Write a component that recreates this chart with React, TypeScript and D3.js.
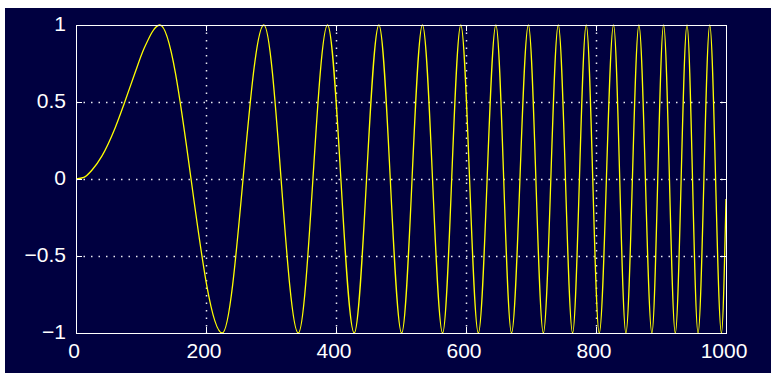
import React from "react";
import * as d3 from "d3";

// Values
const startX = [0, 12, 25, 40, 60, 75, 90, 105];
const startY = [0, 0.01, 0.06, 0.15, 0.33, 0.5, 0.68, 0.85];
const peakX = [129, 289, 387, 466, 533, 592, 646, 696, 742, 785, 827, 866, 904, 940, 975];
const troughX = [225, 342, 428, 501, 564, 619, 670, 719, 764, 805, 846, 886, 922, 957, 993];
const endX = [1000];
const endY = [-0.13];

const xTicks = [0, 200, 400, 600, 800, 1000];
const yTicks = [-1, -0.5, 0, 0.5, 1];
const xGrid = [200, 400, 600, 800];
const yGrid = [-0.5, 0, 0.5];

const W = 771;
const H = 373;
const L = 76, R = 726, T = 25, B = 333;
const NAVY = "#000040";

function fmt(v: number) {
  const s = String(v);
  return s.replace("-", "\u2212");
}

export default function App() {
  const x = d3.scaleLinear().domain([0, 1000]).range([L, R]);
  const y = d3.scaleLinear().domain([-1, 1]).range([B, T]);

  const pts: [number, number][] = [];
  startX.forEach((v, i) => pts.push([v, startY[i]]));
  peakX.forEach((p, i) => {
    pts.push([p, 1]);
    if (i < troughX.length) pts.push([troughX[i], -1]);
  });
  endX.forEach((v, i) => pts.push([v, endY[i]]));
  pts.sort((a, b) => a[0] - b[0]);

  const line = d3
    .line<[number, number]>()
    .x((d) => x(d[0]))
    .y((d) => y(d[1]))
    .curve(d3.curveMonotoneX);

  const tickLen = 6;
  const font = "'Liberation Sans', Arial, sans-serif";

  return (
    <svg
      width={W}
      height={H}
      style={{ position: "absolute", left: 0, top: 0, display: "block" }}
    >
      <rect x={0} y={0} width={W} height={H} fill="#ffffff" />
      <rect x={5} y={8} width={W - 5} height={H - 8} fill={NAVY} />

      {/* grid */}
      {xGrid.map((g) => (
        <line
          key={"xg" + g}
          x1={x(g) + 0.5}
          x2={x(g) + 0.5}
          y1={T}
          y2={B}
          stroke="#e8e8f0"
          strokeWidth={1.5}
          strokeDasharray="1.5 6"
        />
      ))}
      {yGrid.map((g) => (
        <line
          key={"yg" + g}
          x1={L}
          x2={R}
          y1={Math.round(y(g)) + 0.5}
          y2={Math.round(y(g)) + 0.5}
          stroke="#e8e8f0"
          strokeWidth={1.5}
          strokeDasharray="1.5 6"
        />
      ))}

      {/* data line */}
      <path
        d={line(pts) || ""}
        fill="none"
        stroke="#ffff00"
        strokeWidth={1.3}
        strokeLinejoin="round"
      />

      {/* frame */}
      <rect
        x={L + 0.5}
        y={T + 0.5}
        width={R - L}
        height={B - T}
        fill="none"
        stroke="#ffffff"
        strokeWidth={1}
      />

      {/* ticks */}
      {xTicks.map((t) => (
        <g key={"xt" + t}>
          <line x1={x(t) + 0.5} x2={x(t) + 0.5} y1={B} y2={B - tickLen} stroke="#fff" />
          <line x1={x(t) + 0.5} x2={x(t) + 0.5} y1={T} y2={T + tickLen} stroke="#fff" />
          <text
            x={x(t) - 2}
            y={357.5}
            textAnchor="middle"
            fill="#ffffff"
            fontFamily={font}
            fontSize={21}
          >
            {fmt(t)}
          </text>
        </g>
      ))}
      {yTicks.map((t) => (
        <g key={"yt" + t}>
          <line x1={L} x2={L + tickLen} y1={Math.round(y(t)) + 0.5} y2={Math.round(y(t)) + 0.5} stroke="#fff" />
          <line x1={R} x2={R - tickLen} y1={Math.round(y(t)) + 0.5} y2={Math.round(y(t)) + 0.5} stroke="#fff" />
          <text
            x={66}
            y={y(t) + 5.5}
            textAnchor="end"
            fill="#ffffff"
            fontFamily={font}
            fontSize={21}
          >
            {fmt(t)}
          </text>
        </g>
      ))}
    </svg>
  );
}
